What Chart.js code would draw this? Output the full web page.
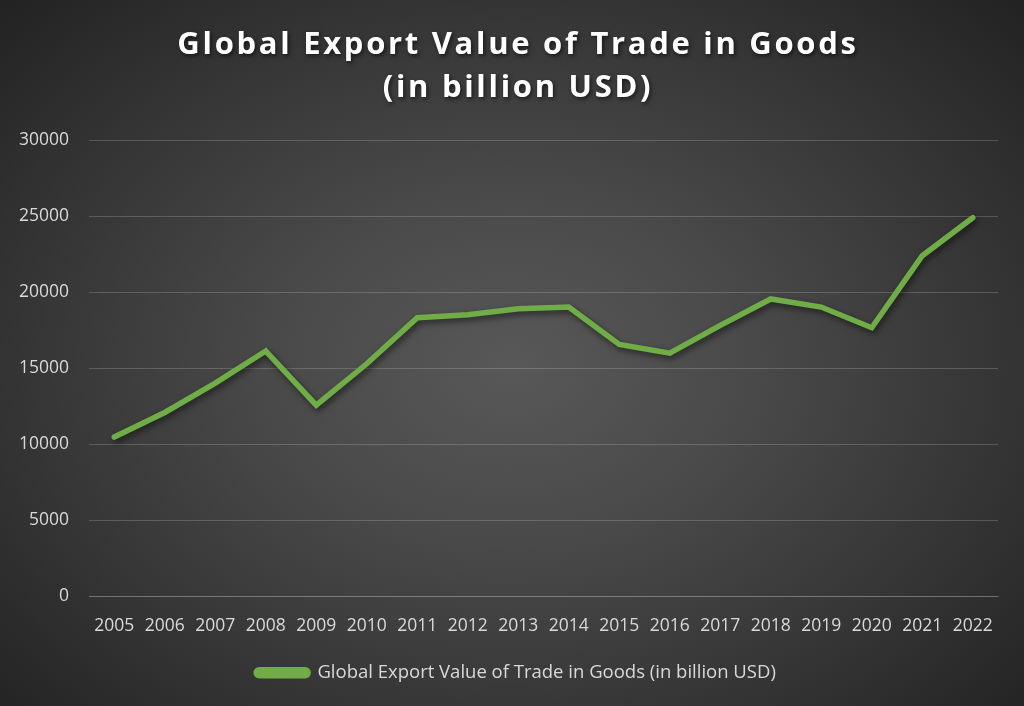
<!DOCTYPE html>
<html>
<head>
<meta charset="utf-8">
<script src="https://cdn.jsdelivr.net/npm/chart.js@4.4.1/dist/chart.umd.min.js"></script>
<style>
html,body{margin:0;padding:0;background:#222;}
#wrap{width:1024px;height:706px;background:radial-gradient(ellipse 75% 80% at 50% 52%, #585858 0%, #4a4a4a 30%, #363636 62%, #242424 90%, #1f1f1f 100%);}
canvas{display:block;}
</style>
</head>
<body>
<div id="wrap"><canvas id="c" width="1024" height="706"></canvas></div>
<script>
const titleLines = ["Global Export Value of Trade in Goods", "(in billion USD)"];
const seriesName = "Global Export Value of Trade in Goods (in billion USD)";
const years = ["2005","2006","2007","2008","2009","2010","2011","2012","2013","2014","2015","2016","2017","2018","2019","2020","2021","2022"];
const exportValues = [10480, 12100, 14030, 16140, 12580, 15300, 18330, 18520, 18920, 19030, 16570, 16000, 17820, 19560, 19030, 17670, 22400, 24900];
const yTicks = [0, 5000, 10000, 15000, 20000, 25000, 30000];

const green = "#70AD47";
const fontFam = "'Open Sans', Lato, sans-serif";

const lineShadow = {
  id: 'lineShadow',
  beforeDatasetDraw(chart) {
    const ctx = chart.ctx;
    ctx.save();
    ctx.shadowColor = 'rgba(0,0,0,0.55)';
    ctx.shadowBlur = 6;
    ctx.shadowOffsetX = 2;
    ctx.shadowOffsetY = 3;
  },
  afterDatasetDraw(chart) {
    chart.ctx.restore();
  }
};

const boxStyle = {
  id: 'boxStyle',
  beforeDraw(chart) {
    const tb = chart.titleBlock;
    if (tb && !tb._styled) {
      const orig = tb.draw.bind(tb);
      tb.draw = function () {
        const ctx = this.ctx;
        ctx.save();
        ctx.translate(19, 0);
        ctx.letterSpacing = '2.7px';
        ctx.shadowColor = 'rgba(0,0,0,0.6)';
        ctx.shadowBlur = 4;
        ctx.shadowOffsetX = 1.5;
        ctx.shadowOffsetY = 2;
        orig();
        ctx.restore();
      };
      tb._styled = true;
    }
    const lg = chart.legend;
    if (lg && !lg._styled) {
      const origL = lg.draw.bind(lg);
      lg.draw = function () {
        const ctx = this.ctx;
        ctx.save();
        ctx.translate(17, 2);
        origL();
        ctx.restore();
      };
      lg._styled = true;
    }
  }
};

new Chart(document.getElementById('c'), {
  type: 'line',
  data: {
    labels: years,
    datasets: [{
      label: seriesName,
      data: exportValues,
      borderColor: green,
      backgroundColor: green,
      borderWidth: 5.5,
      tension: 0,
      pointRadius: 0,
      pointHoverRadius: 0,
      borderCapStyle: 'round',
      borderJoinStyle: 'miter',
      fill: false
    }]
  },
  options: {
    responsive: false,
    animation: false,
    devicePixelRatio: 1,
    layout: { padding: { left: 0, right: 26, top: 0, bottom: 16 } },
    plugins: {
      title: {
        display: true,
        text: titleLines,
        color: '#ffffff',
        font: { family: fontFam, size: 31, weight: 'bold', lineHeight: 1.39 },
        padding: { top: 24, bottom: 30 }
      },
      legend: {
        display: true,
        position: 'bottom',
        labels: {
          color: '#d9d9d9',
          font: { family: fontFam, size: 18.5 },
          boxWidth: 52,
          boxHeight: 6,
          useBorderRadius: true,
          borderRadius: 3,
          padding: 10
        }
      },
      tooltip: { enabled: false }
    },
    scales: {
      x: {
        offset: true,
        afterFit(scale) { scale.height = 55; },
        grid: { display: false, drawTicks: false },
        border: { display: true, color: 'rgba(217,217,217,0.22)', width: 1 },
        ticks: {
          color: '#d9d9d9',
          font: { family: fontFam, size: 17.5 },
          padding: 19,
          maxRotation: 0,
          autoSkip: false
        }
      },
      y: {
        min: 0,
        max: 30000,
        afterFit(scale) { scale.width = 89; },
        afterBuildTicks(scale) { scale.ticks = yTicks.map(v => ({ value: v })); },
        grid: { color: 'rgba(217,217,217,0.22)', drawTicks: false, lineWidth: 1 },
        border: { display: false },
        ticks: {
          color: '#d9d9d9',
          font: { family: fontFam, size: 17.5 },
          padding: 20,
          callback: (v) => String(v)
        }
      }
    }
  },
  plugins: [lineShadow, boxStyle]
});
</script>
</body>
</html>
